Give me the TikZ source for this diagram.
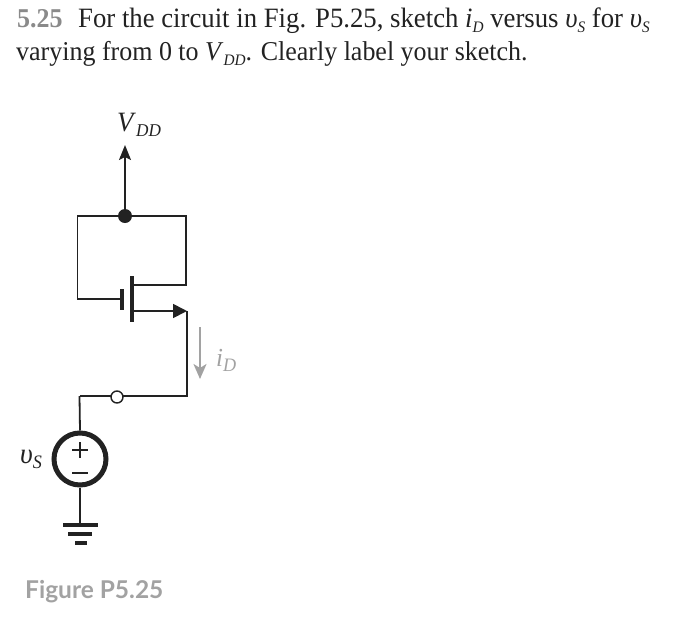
\documentclass[tikz,border=0pt]{standalone}
\usepackage{fontspec}
\setmainfont[FakeStretch=0.955]{Liberation Serif}
\newfontfamily\capfont{Lato}
\usetikzlibrary{arrows.meta}
\definecolor{ink}{HTML}{222222}
\definecolor{soft}{HTML}{A2A2A2}
\tikzset{
 x=1pt,y=-1pt,
 wire/.style={draw=ink,line width=1.8pt},
 txt/.style={inner sep=0pt,anchor=base west,text=ink},
 bar/.style={draw=ink,line width=4pt},
 tip/.style={-{Stealth[length=15pt,width=12pt,inset=3pt]}},
 head/.style={font=\fontsize{27.2}{27.2}\selectfont},
}
\newcommand{\ssub}[2][16]{\raisebox{-5pt}{\fontsize{#1}{#1}\selectfont\textit{#2}}}
\begin{document}
\begin{tikzpicture}
\useasboundingbox (0,0) rectangle (697,630);
\node[txt,head,text=soft!85!black] (num) at (17,27) {\textbf{5.25}};
\node[txt,font=\fontsize{28}{28}\selectfont] (title1) at (78,27) {For the circuit in Fig. P5.25, sketch \textit{i}\ssub{D} versus \textit{υ}\ssub{S} for \textit{υ}\ssub{S}};
\node[txt,head] (title2) at (16,60) {varying from 0 to \textit{V}\ssub{DD}. Clearly label your sketch.};
\node[txt,font=\fontsize{28}{28}\selectfont] (vdd) at (117,131) {\textit{V}\ssub[18]{DD}};
\coordinate (jn) at (125,216);
\coordinate (up) at (125,145);
\coordinate (tl) at (77.5,216);
\coordinate (tr) at (186,216);
\coordinate (gl) at (77.5,299);
\coordinate (gate) at (122,299);
\coordinate (dr) at (186,285);
\coordinate (chd) at (132,285);
\coordinate (chs) at (132,311);
\coordinate (src) at (187,311);
\coordinate (br) at (187,396);
\coordinate (bl) at (79.5,396);
\coordinate (chtop) at (132,276);
\coordinate (chbot) at (132,322);
\coordinate (gtop) at (122,289);
\coordinate (gbot) at (122,310);
\draw[wire,tip] (jn) -- (up);
\draw[wire] (gate) -- (gl) -- (tl) -- (tr) -- (dr) -- (chd);
\draw[wire,-{Stealth[length=14pt,width=14pt,inset=0pt]}] (chs) -- (src);
\draw[wire] (src) -- (br) -- (bl);
\draw[bar,line width=4.5pt] (chtop) -- (chbot);
\draw[bar] (gtop) -- (gbot);
\node[circle,fill=ink,minimum size=14pt,inner sep=0pt] (dot) at (jn) {};
\node[circle,draw=ink,fill=white,line width=1.4pt,minimum size=12pt,inner sep=0pt] (term) at (117,397) {};
\node[circle,draw=ink,fill=white,line width=5pt,minimum size=52pt,inner sep=0pt] (vs) at (80,459) {};
\draw[wire] (bl) -- (vs.north);
\draw[draw=ink,line width=1.1pt] (72,450) -- (88,450) (80,442) -- (80,458) (72,473) -- (88,473);
\coordinate (gnd) at (80,525);
\draw[wire] (vs.south) -- (gnd);
\draw[bar,line width=4.5pt] (63,525) -- (98,525) (68,534) -- (92,534) (75,543) -- (87,543);
\coordinate (ia) at (200,327);
\coordinate (ib) at (200,379);
\draw[draw=soft,line width=2pt,-{Stealth[length=15pt,width=13pt,inset=4pt]}] (ia) -- (ib);
\node[txt,text=soft,font=\fontsize{26}{26}\selectfont] (id) at (216,366) {\textit{i}\ssub[19]{D}};
\node[txt,font=\fontsize{29}{29}\selectfont] (vslab) at (20,463) {\textit{υ}\ssub[19]{S}};
\node[txt,text=soft,font=\capfont\bfseries\fontsize{24.5}{24.5}\selectfont] (cap) at (25,598) {Figure P5.25};
\end{tikzpicture}
\end{document}
